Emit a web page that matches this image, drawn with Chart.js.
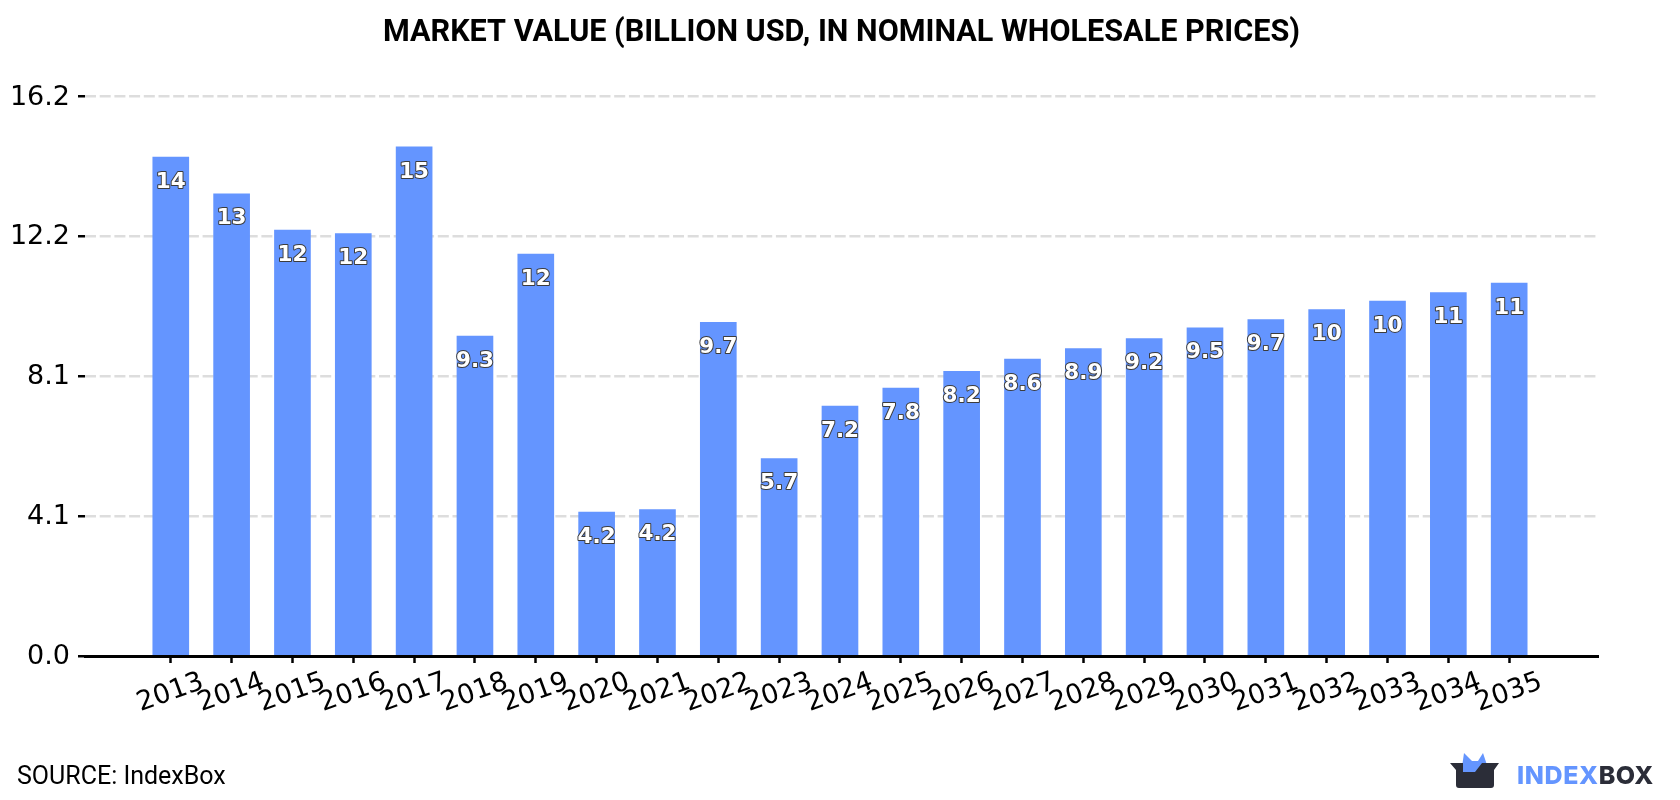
<!DOCTYPE html>
<html>
<head>
<meta charset="utf-8">
<title>Market value</title>
<script src="https://cdn.jsdelivr.net/npm/chart.js@4/dist/chart.umd.min.js"></script>
<style>
	html, body { margin: 0; padding: 0; background: #fff; }
	#wrap { position: relative; width: 1680px; height: 800px; overflow: hidden; }
	#marketChart { position: absolute; left: 0; top: 0; }
	#source { position: absolute; left: 17px; top: 761px; font: 400 25px Roboto, sans-serif; color: #000; }
	#logo { position: absolute; left: 1450px; top: 752px; }
	#brand { position: absolute; left: 1517px; top: 760px; font: 800 25px Inter, sans-serif; line-height: 30px; letter-spacing: 0.6px; color: #6495ff; }
	#brand span { color: #2b2d38; }
</style>
</head>
<body>
<div id="wrap">
	<canvas id="marketChart" width="1680" height="800"></canvas>
	<div id="source">SOURCE: IndexBox</div>
	<svg id="logo" width="52" height="42" viewBox="0 0 52 42">
		<path d="M12 15 L14 1 L22 9 L28 9 L33 1 L37 13 L27 22 L12 22 Z" fill="#6495ff"/>
		<path d="M0 11 L13 11 L13 20 L25 20 L32 11 L49 11 L44 18 L44 33 Q44 36 41 36 L9 36 Q6 36 6 33 L6 18 Z" fill="#2b2d38"/>
	</svg>
	<div id="brand">INDEX<span>BOX</span></div>
</div>
<script>
const years = [2013, 2014, 2015, 2016, 2017, 2018, 2019, 2020, 2021, 2022, 2023, 2024, 2025, 2026, 2027, 2028, 2029, 2030, 2031, 2032, 2033, 2034, 2035];
const marketValues = [14.45, 13.38, 12.33, 12.23, 14.74, 9.26, 11.64, 4.17, 4.24, 9.66, 5.72, 7.24, 7.76, 8.24, 8.6, 8.9, 9.19, 9.5, 9.74, 10.03, 10.28, 10.52, 10.8];
const yTickValues = [0, 4.05, 8.1, 12.15, 16.2];
const yTickLabels = ["0.0", "4.1", "8.1", "12.2", "16.2"];

const chartTitle = "MARKET VALUE (BILLION USD, IN NOMINAL WHOLESALE PRICES)";
const barColor = "#6495ff";

// white value labels with a dark outline, inside the top of each bar
const barValueLabels = {
	id: "barValueLabels",
	afterDatasetsDraw(chart) {
		const g = chart.ctx;
		const bars = chart.getDatasetMeta(0).data;
		g.save();
		g.font = "bold 21.5px 'DejaVu Sans'";
		g.textAlign = "center";
		g.textBaseline = "middle";
		g.lineJoin = "round";
		bars.forEach((bar, i) => {
			const text = String(Number(marketValues[i].toPrecision(2)));
			g.lineWidth = 2;
			g.strokeStyle = "#3c3c3c";
			g.strokeText(text, bar.x, bar.y + 25);
			g.fillStyle = "#fff";
			g.fillText(text, bar.x, bar.y + 25);
		});
		g.restore();
	},
};

const config = {
	type: "bar",
	data: {
		datasets: [
			{
				data: years.map((year, i) => ({ x: year, y: marketValues[i] })),
				backgroundColor: barColor,
				barThickness: 36,
			},
		],
	},
	options: {
		responsive: false,
		animation: false,
		layout: {
			autoPadding: false,
			padding: { left: 0, right: 82, top: 0, bottom: 0 },
		},
		plugins: {
			legend: { display: false },
			tooltip: { enabled: false },
			title: {
				display: true,
				fullSize: false,
				text: chartTitle,
				color: "#000",
				font: { family: "Roboto", size: 30.6, weight: "bold" },
				padding: { top: 14.5, bottom: 45.3 },
			},
		},
		scales: {
			x: {
				type: "linear",
				offset: false,
				min: 2011.59,
				max: 2036.46,
				afterBuildTicks: (axis) => {
					axis.ticks = years.map((year) => ({ value: year }));
				},
				afterFit: (axis) => {
					axis.height = 144;
				},
				grid: {
					offset: false,
					drawOnChartArea: false,
					tickColor: "#000",
					tickLength: 7,
					tickWidth: 2.5,
				},
				border: { color: "#000", width: 3 },
				ticks: {
					autoSkip: false,
					maxRotation: 20,
					minRotation: 20,
					labelOffset: 32,
					padding: 3,
					color: "#000",
					font: { family: "DejaVu Sans", size: 27 },
					callback: (value) => String(value),
				},
			},
			y: {
				min: 0,
				max: 16.2,
				afterBuildTicks: (axis) => {
					axis.ticks = yTickValues.map((value) => ({ value }));
				},
				afterFit: (axis) => {
					axis.width = 85;
				},
				grid: {
					color: (ctx) => (ctx.tick && ctx.tick.value === 0 ? "rgba(0,0,0,0)" : "#dddddd"),
					lineWidth: 2.5,
					tickColor: "#000",
					tickLength: 7,
					tickWidth: 2.5,
					tickBorderDash: [],
				},
				border: { display: false, dash: [11, 3.7] },
				ticks: {
					padding: 8,
					labelOffset: 1,
					color: "#000",
					font: { family: "DejaVu Sans", size: 27 },
					callback: (value, index) => yTickLabels[index],
				},
			},
		},
	},
	plugins: [barValueLabels],
};

new Chart(document.getElementById("marketChart"), config);
</script>
</body>
</html>
